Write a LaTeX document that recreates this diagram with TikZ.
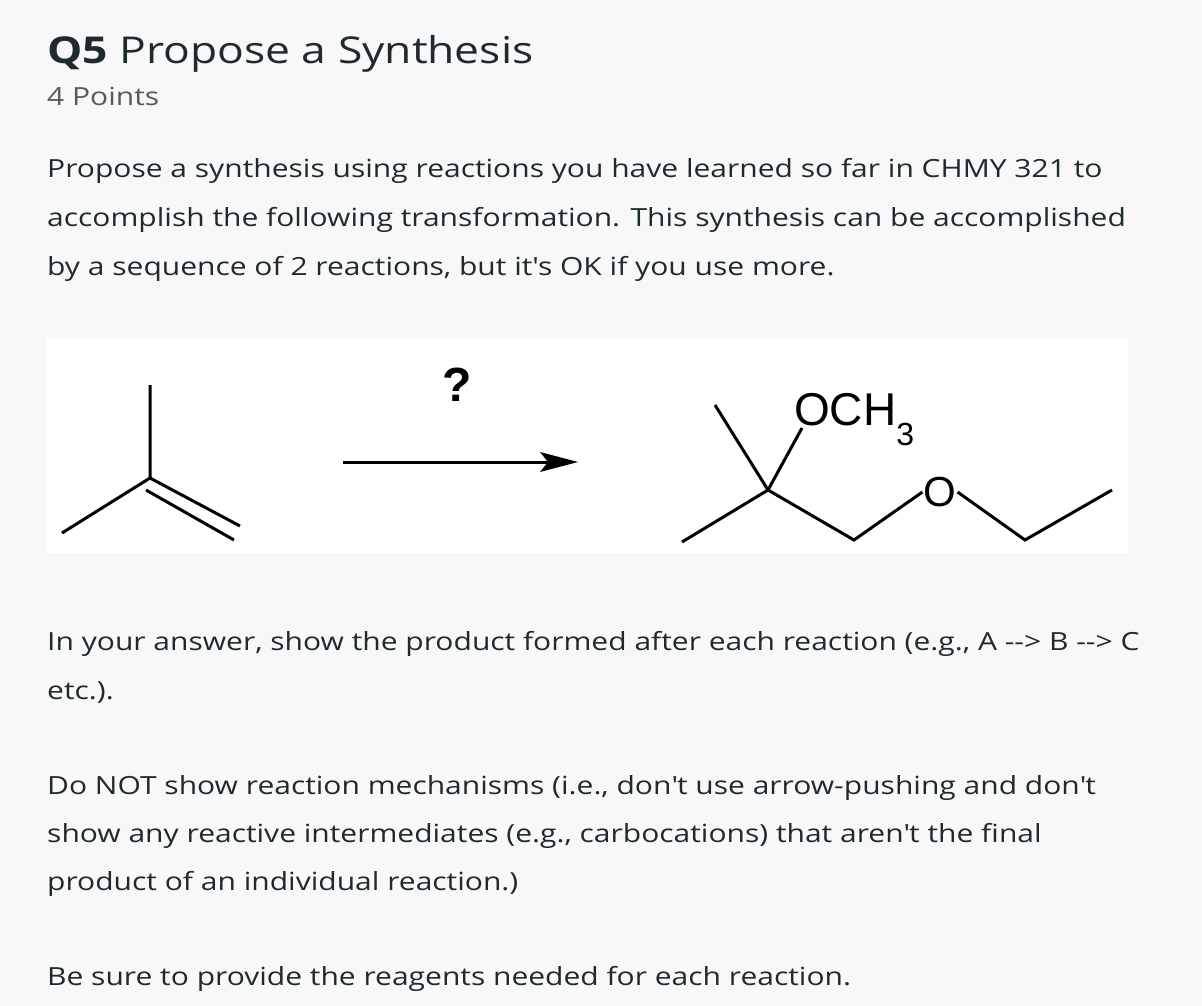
\documentclass[tikz,border=0pt]{standalone}
\usepackage{fontspec}
\setmainfont{Open Sans}[FakeStretch=1.2]
\newfontfamily\hel{Liberation Sans}
\definecolor{bg}{HTML}{F8F8FA}
\definecolor{tx}{HTML}{1F2A2A}
\newcommand\ap{\textquotesingle}
\newcommand\dd{-{}-}
\begin{document}
\begin{tikzpicture}[x=1pt,y=-1pt,
  body/.style={anchor=base west,inner sep=0pt,font=\fontsize{25}{30}\selectfont,text=tx},
  bond/.style={line width=3pt,black}]
\fill[bg] (0,0) rectangle (1202,1006);
\useasboundingbox (0,0) rectangle (1202,1006);
\fill[white] (47,338) rectangle (1128,553);
\node[body,font=\fontsize{37}{44}\selectfont] (t) at (47,64) {\textbf{Q5} Propose a Synthesis};
\node[body,text=black!65] (p) at (47,106) {4 Points};
\node[body] (l1) at (47,178) {Propose a synthesis using reactions you have learned so far in CHMY 321 to};
\node[body] (l2) at (47,226) {accomplish the following transformation. This synthesis can be accomplished};
\node[body] (l3) at (47,275) {by a sequence of 2 reactions, but it\ap s OK if you use more.};
\node[body] (l4) at (47,650) {In your answer, show the product formed after each reaction (e.g., A \dd> B \dd> C};
\node[body] (l5) at (47,699) {etc.).};
\node[body] (l6) at (47,794) {Do NOT show reaction mechanisms (i.e., don\ap t use arrow-pushing and don\ap t};
\node[body] (l7) at (47,842) {show any reactive intermediates (e.g., carbocations) that aren\ap t the final};
\node[body] (l8) at (47,890) {product of an individual reaction.)};
\node[body] (l9) at (47,985) {Be sure to provide the reagents needed for each reaction.};
% left molecule
\coordinate (a) at (150,478);
\draw[bond] (150,385) -- (a) -- (62,533);
\draw[bond] (a) -- (240,526);
\draw[bond] (146,490) -- (234,540);
% arrow
\coordinate (s) at (343,462); \coordinate (e) at (578,462);
\draw[line width=3pt] (s) -- (552,462);
\fill (e) -- (540,452) -- (548,462) -- (540,472) -- cycle;
\node[font=\hel\bfseries\fontsize{48}{50}\selectfont] (q) at (457,385) {?};
% right molecule
\coordinate (c) at (768,490);
\node[font=\hel\fontsize{46}{48}\selectfont,inner sep=0pt,anchor=base west] (och) at (794,425) {OCH\raisebox{-20pt}{\fontsize{32}{34}\selectfont 3}};
\node[font=\hel\fontsize{42}{44}\selectfont,inner sep=1pt] (o) at (940,492) {O};
\draw[bond] (715,405) -- (c) -- (682,542);
\draw[bond] (c) -- (854,540) -- (o.west);
\draw[bond] (c) -- (802,428);
\draw[bond] (o.east) -- (1025,540) -- (1112,490);
\end{tikzpicture}
\end{document}
